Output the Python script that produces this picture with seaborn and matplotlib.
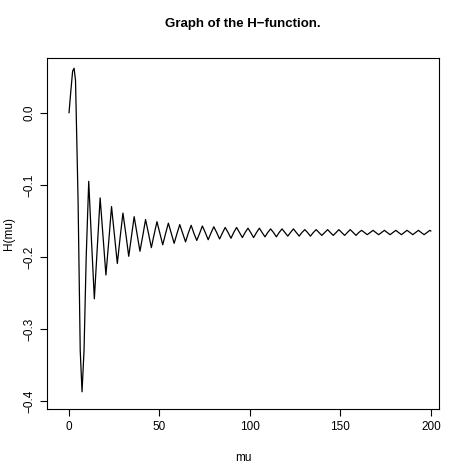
import matplotlib
matplotlib.use("Agg")
import matplotlib.pyplot as plt
import seaborn as sns
import pandas as pd

# hand-read points of the curve (start, first swing, then alternating extrema)
start_mu = [0.0, 1.0, 2.0, 2.8, 3.6, 5.0, 6.2, 7.2, 8.3, 9.5]
start_h = [0.0, 0.03, 0.058, 0.062, 0.045, -0.12, -0.33, -0.387, -0.33, -0.2]

peak_mu = [10.9, 17.2, 23.5, 29.8, 36.0, 42.3, 48.6, 54.9, 61.2, 67.5, 73.7,
           80.0, 86.3, 92.6, 98.9, 105.2, 111.4, 117.7, 124.0, 130.3, 136.6,
           142.9, 149.1, 155.4, 161.7, 168.0, 174.3, 180.6, 186.8, 193.1, 199.4]
peak_h = [-0.095, -0.118, -0.130, -0.139, -0.144, -0.148, -0.151, -0.153, -0.155,
          -0.156, -0.157, -0.158, -0.159, -0.159, -0.160, -0.160, -0.161, -0.161,
          -0.161, -0.162, -0.162, -0.162, -0.162, -0.162, -0.163, -0.163, -0.163,
          -0.163, -0.163, -0.163, -0.163]
trough_mu = [14.0, 20.4, 26.7, 33.0, 39.2, 45.5, 51.8, 58.1, 64.4, 70.6, 76.9,
             83.2, 89.5, 95.8, 102.0, 108.3, 114.6, 120.9, 127.2, 133.4, 139.7,
             146.0, 152.3, 158.6, 164.8, 171.1, 177.4, 183.7, 190.0, 196.2]
trough_h = [-0.258, -0.225, -0.209, -0.199, -0.192, -0.187, -0.183, -0.181, -0.179,
            -0.177, -0.176, -0.175, -0.174, -0.173, -0.173, -0.172, -0.172, -0.171,
            -0.171, -0.171, -0.170, -0.170, -0.170, -0.170, -0.169, -0.169, -0.169,
            -0.169, -0.169, -0.169]
# points where the curve crosses its centre line, between successive extrema
mid_mu = [12.4, 15.6, 18.8, 22.0, 25.1, 28.2, 31.4, 34.5, 37.6, 40.8,
          43.9, 47.0, 50.2, 53.3, 56.5, 59.6, 62.8, 65.9, 69.0, 72.2,
          75.3, 78.4, 81.6, 84.7, 87.9, 91.0, 94.2, 97.3, 100.4, 103.6,
          106.7, 109.8, 113.0, 116.1, 119.3, 122.4, 125.6, 128.7, 131.8, 135.0,
          138.1, 141.3, 144.4, 147.6, 150.7, 153.8, 157.0, 160.1, 163.3, 166.4,
          169.5, 172.7, 175.8, 179.0, 182.1, 185.2, 188.4, 191.5, 194.6, 197.8]
mid_h = [-0.176, -0.188, -0.171, -0.177, -0.169, -0.174, -0.168, -0.172, -0.168, -0.170,
         -0.167, -0.169, -0.167, -0.168, -0.167, -0.168, -0.167, -0.167, -0.167, -0.167,
         -0.166, -0.167, -0.166, -0.167, -0.166, -0.166, -0.166, -0.166, -0.166, -0.166,
         -0.166, -0.166, -0.166, -0.166, -0.166, -0.166, -0.166, -0.166, -0.166, -0.166,
         -0.166, -0.166, -0.166, -0.166, -0.166, -0.166, -0.166, -0.166, -0.166, -0.166,
         -0.166, -0.166, -0.166, -0.166, -0.166, -0.166, -0.166, -0.166, -0.166, -0.166]
end_mu = [200.0]
end_h = [-0.164]

ext_mu, ext_h = [], []
for i in range(len(peak_mu)):
    ext_mu.append(peak_mu[i]); ext_h.append(peak_h[i])
    if i < len(trough_mu):
        ext_mu.append(trough_mu[i]); ext_h.append(trough_h[i])

mu = list(start_mu)
h = list(start_h)
for i in range(len(ext_mu)):
    mu.append(ext_mu[i]); h.append(ext_h[i])
    if i < len(mid_mu):
        mu.append(mid_mu[i]); h.append(mid_h[i])
mu += end_mu
h += end_h
df = pd.DataFrame({"mu": mu, "H": h})

sns.set_style("ticks")
plt.rcParams["font.family"] = ["Liberation Sans", "DejaVu Sans"]
plt.rcParams["text.color"] = "black"
plt.rcParams["axes.labelcolor"] = "black"
plt.rcParams["xtick.color"] = "black"
plt.rcParams["ytick.color"] = "black"

fig = plt.figure(figsize=(4.74, 4.74), dpi=100)
ax = fig.add_axes([0.099, 0.137, 0.827, 0.741])
sns.lineplot(data=df, x="mu", y="H", sort=False, color="black", lw=0.9, ax=ax)

ax.set_xlim(-12.2, 204.4)
ax.set_ylim(-0.411, 0.0764)
ax.set_xticks([0, 50, 100, 150, 200])
ax.set_yticks([0.0, -0.1, -0.2, -0.3, -0.4])
ax.set_yticklabels(["0.0", "\u22120.1", "\u22120.2", "\u22120.3", "\u22120.4"],
                   rotation=90, va="center")
ax.tick_params(labelsize=8.5, length=5, width=0.8, direction="out")
for s in ax.spines.values():
    s.set_visible(True)
    s.set_linewidth(0.8)
    s.set_color("black")
ax.set_xlabel("mu", fontsize=8.5, labelpad=14)
ax.set_ylabel("H(mu)", fontsize=8.5, labelpad=6)
ax.set_title("Graph of the H\u2212function.", fontsize=9.5, fontweight="bold", pad=22)

fig.savefig("out.png", dpi=100)
